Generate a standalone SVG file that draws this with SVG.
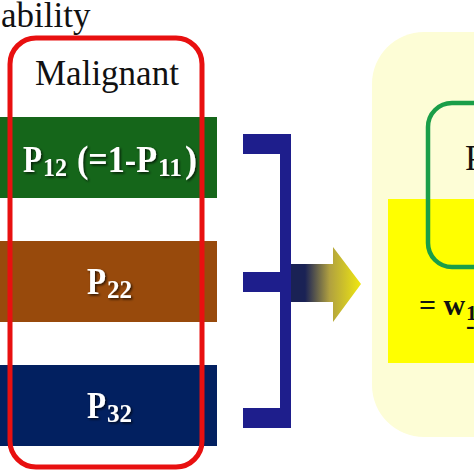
<svg xmlns="http://www.w3.org/2000/svg" width="474" height="474" viewBox="0 0 474 474">
<defs>
<style>
.lbl{font-family:"Liberation Serif","Times New Roman",serif;fill:#111}
.bt{font-family:"Liberation Serif","Times New Roman",serif;font-weight:bold;fill:#fff;filter:url(#sh)}
.bk{font-family:"Liberation Serif","Times New Roman",serif;font-weight:bold;fill:#111}
.brk{fill:#1e1e8c}
</style>
<filter id="sh" x="-20%" y="-20%" width="140%" height="140%">
<feDropShadow dx="1.5" dy="1.5" stdDeviation="0.8" flood-color="#000" flood-opacity="0.7"/>
</filter>
<linearGradient id="ag" x1="291" y1="0" x2="361" y2="0" gradientUnits="userSpaceOnUse">
<stop offset="0" stop-color="#1a2255"/>
<stop offset="0.2" stop-color="#1a2255"/>
<stop offset="0.55" stop-color="#b0a040"/>
<stop offset="1" stop-color="#f0e810"/>
</linearGradient>
</defs>
<rect width="474" height="474" fill="#fff"/>
<text class="lbl" x="1" y="27" font-size="35">ability</text>

<g id="panel">
<rect x="372" y="32" width="160" height="405" rx="52" fill="#fdfdd6"/>
<rect x="388" y="199" width="100" height="164" fill="#ffff00"/>
<rect x="428" y="103" width="80" height="164" rx="24" fill="none" stroke="#1a9e48" stroke-width="4.5"/>
<text class="lbl" x="465" y="170" font-size="35">P</text>
<text class="bk" x="419" y="315" font-size="30">= w</text>
<text class="bk" x="466" y="320" font-size="22">1</text>
<text class="bk" x="466" y="334" font-size="26">-</text>
</g>

<g id="bar1">
<rect x="0" y="117" width="217" height="81" fill="#15661a"/>
<text class="bt" x="23" y="172" font-size="38" textLength="19" lengthAdjust="spacingAndGlyphs">P</text>
<text class="bt" x="43" y="176" font-size="26" textLength="24" lengthAdjust="spacingAndGlyphs">12</text>
<text class="bt" x="77" y="172" font-size="38" textLength="80" lengthAdjust="spacingAndGlyphs">(=1-P</text>
<text class="bt" x="158" y="176" font-size="26" textLength="24" lengthAdjust="spacingAndGlyphs">11</text>
<text class="bt" x="185" y="172" font-size="38" textLength="12" lengthAdjust="spacingAndGlyphs">)</text>
</g>
<g id="bar2">
<rect x="0" y="241" width="217" height="81" fill="#984a0c"/>
<text class="bt" x="87" y="294" font-size="38" textLength="19" lengthAdjust="spacingAndGlyphs">P</text>
<text class="bt" x="107" y="298" font-size="26" textLength="25" lengthAdjust="spacingAndGlyphs">22</text>
</g>
<g id="bar3">
<rect x="0" y="365" width="217" height="81" fill="#022060"/>
<text class="bt" x="87" y="418" font-size="38" textLength="19" lengthAdjust="spacingAndGlyphs">P</text>
<text class="bt" x="107" y="422" font-size="26" textLength="25" lengthAdjust="spacingAndGlyphs">32</text>
</g>

<g id="malignant">
<rect x="10" y="38" width="192" height="429" rx="26" fill="none" stroke="#e81010" stroke-width="5"/>
<text class="lbl" x="35" y="85" font-size="35">Malignant</text>
</g>

<g id="connectors">
<path class="brk" d="M243 134H291V428H243V408H280V292H243V272H280V154H243Z"/>
<path d="M291 264H333V247L361 284L333 322V302H291Z" fill="url(#ag)"/>
</g>
</svg>
